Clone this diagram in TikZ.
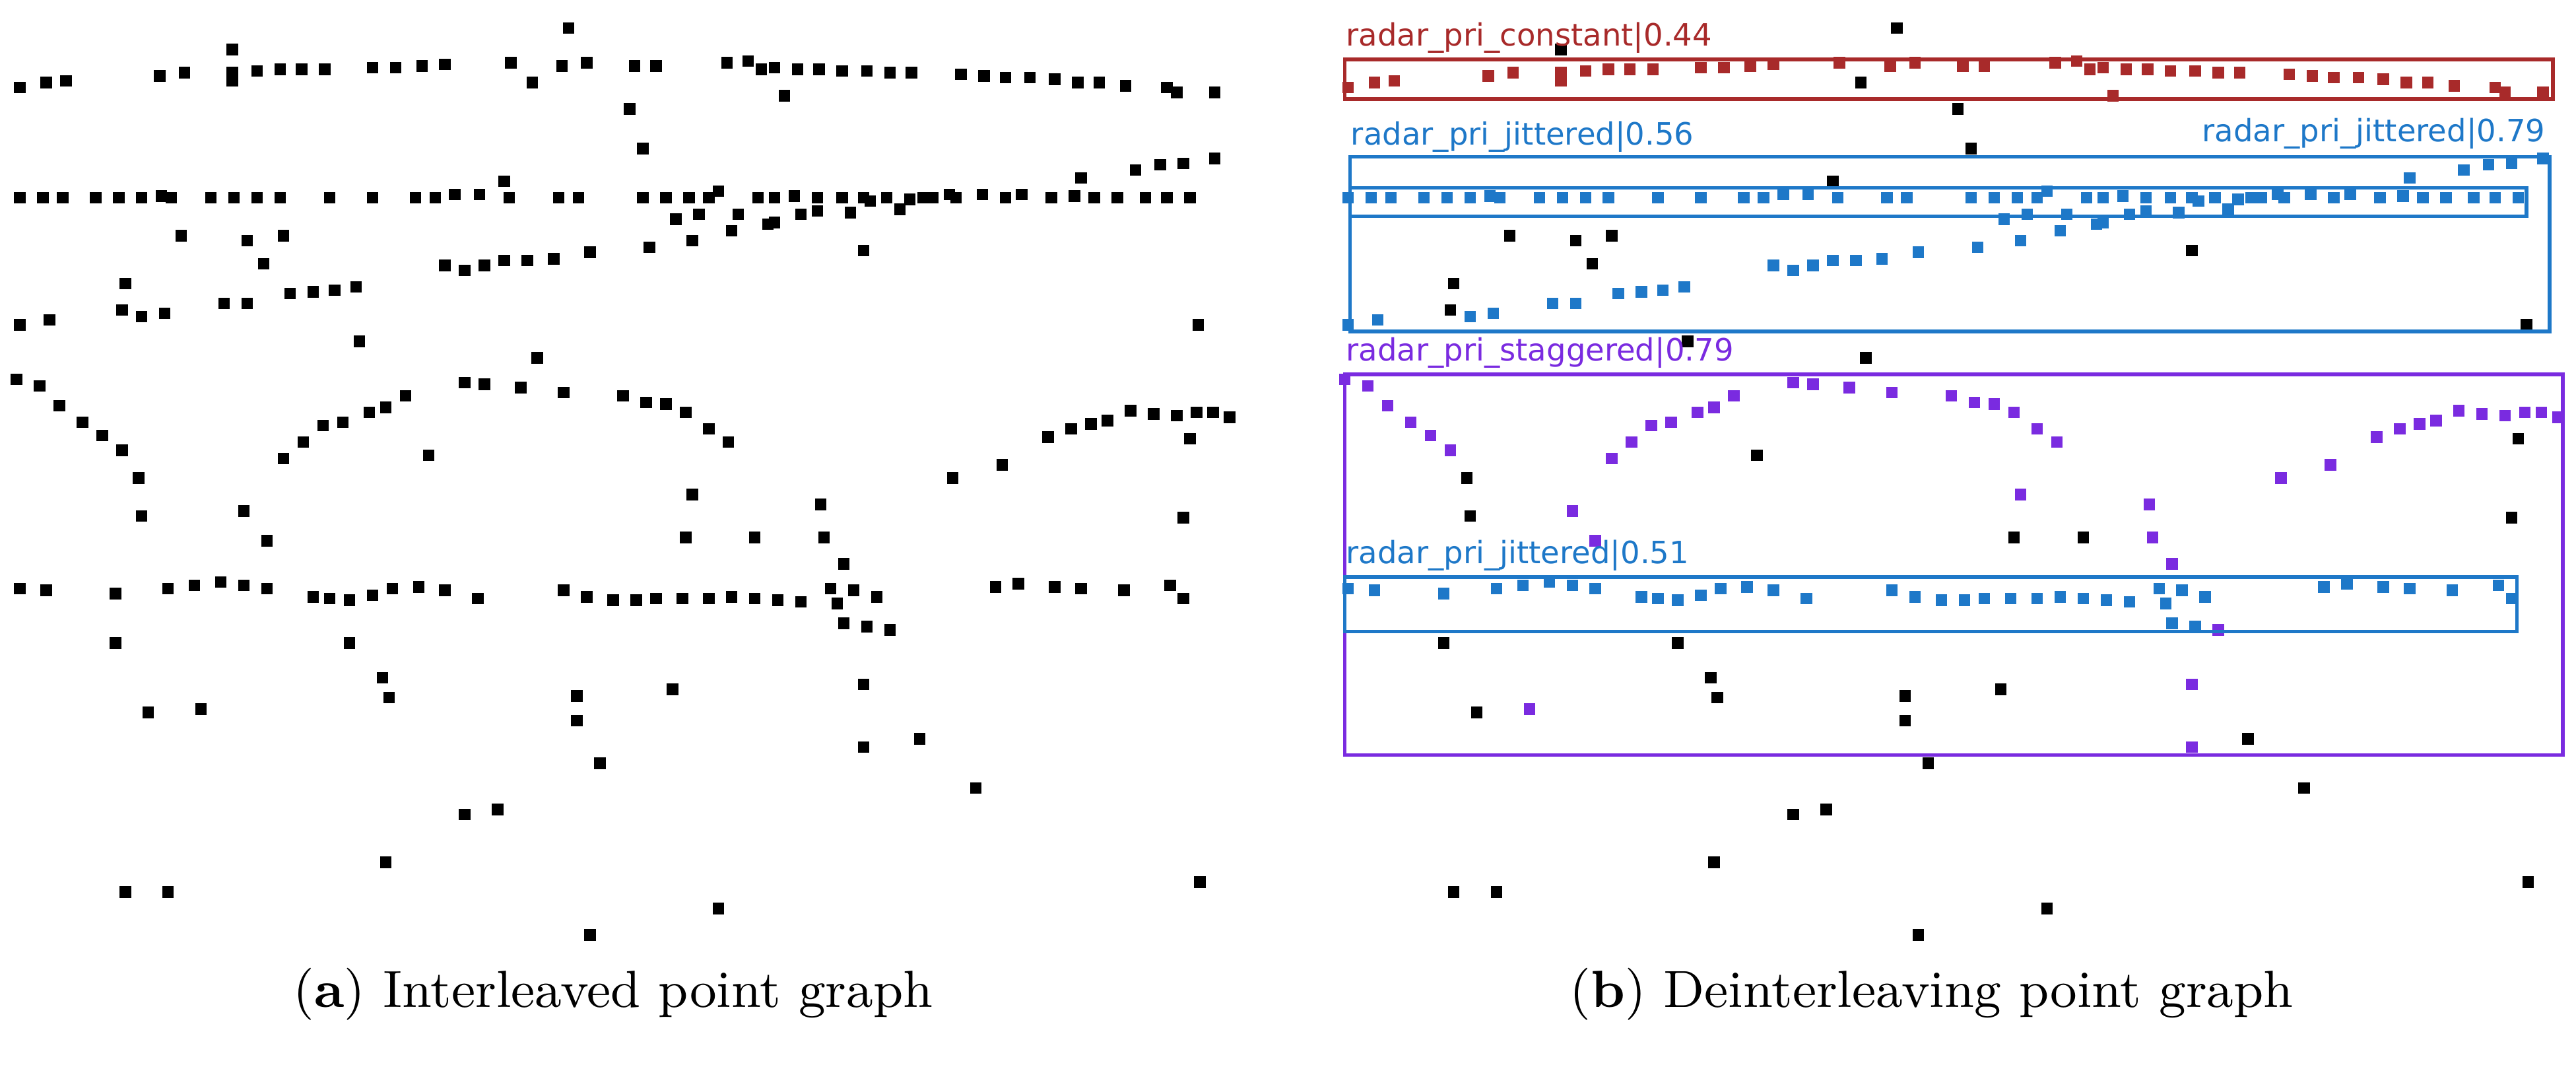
\documentclass[tikz,border=0pt]{standalone}
\usepackage{fontspec}
\newfontfamily\labfont{DejaVu Sans}
\definecolor{cred}{HTML}{A82A2A}
\definecolor{cblue}{HTML}{1E78C8}
\definecolor{cpur}{HTML}{7A2BE0}
\tikzset{boxlab/.style={font=\labfont\fontsize{5.3}{5.3}\selectfont,inner sep=0pt},
 captext/.style={font=\fontsize{9}{9}\selectfont,inner sep=0pt}}
\newcommand{\pt}[3]{\fill[#1] (#2-3.5,#3-3.5) rectangle +(7,7);}
\begin{document}
\begin{tikzpicture}[x=0.01cm,y=-0.01cm]
\useasboundingbox (0,0) rectangle (1563,647);
\def\red{12/53,28/50,40/49,97/46,112/44,141/44,141/49,156/43,170/42,183/42,197/42,226/41,240/41,256/40,270/39,310/38,341/40,356/38,385/40,398/40,441/38,454/37,462/42,470/41,484/42,497/42,511/43,526/43,540/44,553/44,583/45,597/46,610/47,625/47,640/48,654/50,667/50,683/52,708/53,714/56,737/56,476/58}
\def\blue{12/120,26/120,38/120,58/120,72/120,86/120,98/119,104/120,128/120,142/120,156/120,170/120,200/120,226/120,252/120,264/120,276/118,291/118,309/120,339/120,351/120,390/120,404/120,418/120,430/120,460/120,470/120,482/119,496/120,511/120,524/120,538/120,552/121,566/120,580/120,596/118,610/120,638/120,652/119,664/120,678/120,695/120,708/120,722/120,656/108,689/103,704/100,718/99,737/96,436/116,410/133,424/130,448/130,470/135,486/130,496/128,516/129,528/122,546/127,560/120,576/118,620/118,270/161,282/164,294/161,306/158,320/158,336/157,358/153,394/150,420/146,444/140,466/136,12/197,30/194,86/192,100/190,136/184,150/184,176/178,190/177,203/176,216/174,12/357,28/358,70/360,102/357,118/355,134/353,148/355,162/357,190/362,200/363,212/364,226/361,238/357,254/356,270/358,290/363,342/358,356/362,372/364,386/364,398/363,414/363,430/363,444/362,458/363,472/364,486/365,504/357,508/366,518/358,532/362,512/378,526/380,604/356,618/354,640/356,656/357,682/358,710/355,718/363}
\def\pur{10/230,24/234,36/246,50/256,62/264,74/273,162/328,172/278,184/268,196/258,208/256,224/250,234/247,246/240,282/232,294/233,316/235,342/238,378/240,392/244,404/245,416/250,430/260,442/268,420/300,498/306,500/326,512/342,578/290,608/282,636/265,650/260,662/257,672/255,686/249,700/251,714/252,726/250,736/250,746/253,540/382,122/430,524/415,524/453,148/310}
\def\blk{141/30,345/17,382/66,390/90,323/50,306/110,110/143,150/146,172/143,160/160,524/152,76/172,74/188,218/207,326/217,727/197,84/290,86/313,260/276,416/326,458/326,718/314,722/266,70/390,212/390,232/411,236/423,90/432,350/422,350/437,364/463,408/418,558/448,592/478,282/494,302/491,234/523,76/541,102/541,358/567,436/551,728/535}
% panel a
\foreach \x/\y in \red {\pt{black}{\x}{\y}}
\foreach \x/\y in \blue {\pt{black}{\x}{\y}}
\foreach \x/\y in \pur {\pt{black}{\x}{\y}}
\foreach \x/\y in \blk {\pt{black}{\x}{\y}}
% panel b
\foreach \x/\y in \red {\pt{cred}{\x+806}{\y}}
\foreach \x/\y in \blue {\pt{cblue}{\x+806}{\y}}
\foreach \x/\y in \pur {\pt{cpur}{\x+806}{\y}}
\foreach \x/\y in \blk {\pt{black}{\x+806}{\y}}
% boxes
\draw[cred,line width=0.6pt] (816,36) rectangle (1549,60);
\draw[cblue,line width=0.6pt] (819,95) rectangle (1547,201);
\draw[cblue,line width=0.6pt] (819,114) rectangle (1533,131);
\draw[cpur,line width=0.6pt] (816,227) rectangle (1555,458);
\draw[cblue,line width=0.6pt] (816,350) rectangle (1527,383);
\node[boxlab,cred,anchor=south west] (l1) at (816,33) {radar\_pri\_constant|0.44};
\node[boxlab,cblue,anchor=south west] (l2) at (819,93) {radar\_pri\_jittered|0.56};
\node[boxlab,cblue,anchor=south east] (l3) at (1545,91) {radar\_pri\_jittered|0.79};
\node[boxlab,cpur,anchor=south west] (l4) at (816,224) {radar\_pri\_staggered|0.79};
\node[boxlab,cblue,anchor=south west] (l5) at (816,347) {radar\_pri\_jittered|0.51};
\node[captext] (ca) at (372,603) {(\textbf{a}) Interleaved point graph};
\node[captext] (cb) at (1172,603) {(\textbf{b}) Deinterleaving point graph};
\end{tikzpicture}
\end{document}
